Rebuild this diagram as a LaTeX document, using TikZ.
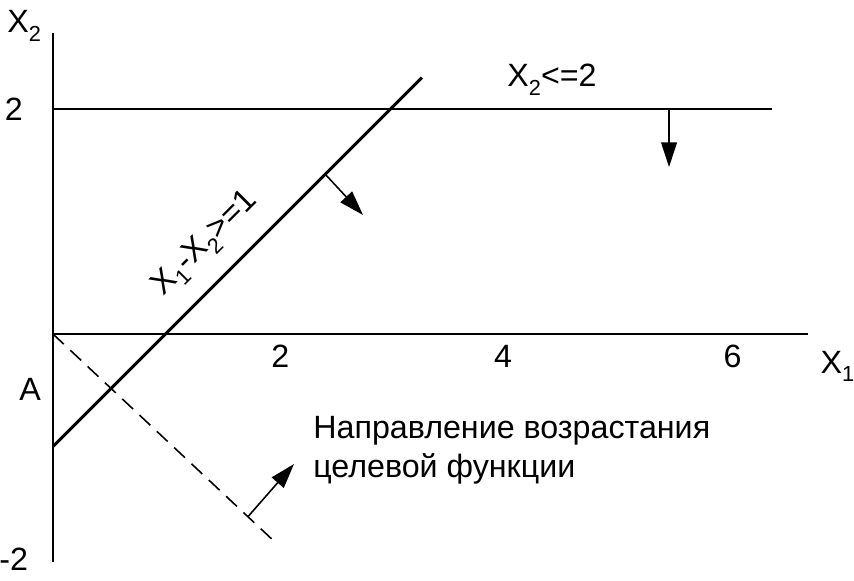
\documentclass[tikz,border=0pt]{standalone}
\usepackage{fontspec}
\setmainfont{Liberation Sans}
\usetikzlibrary{arrows.meta}
\def\sub#1{\raisebox{-0.5ex}{\fontsize{11}{11}\selectfont #1}}

\begin{document}
\begin{tikzpicture}[x=2cm, y=2cm, font=\fontsize{16.3}{19.7}\selectfont,
  >={Triangle[length=0.44cm,width=0.28cm]}]
			%%%%% START %%%%%
			\useasboundingbox (-0.471,-2.187) rectangle (7.120,2.969);
			
			% axes and constraint x2<=2
			\draw[line width=1pt] (0,-2.03) -- (0,2.68);
			\draw[line width=1pt] (0,0) -- (6.71,0);
			\draw[line width=1pt] (0,2) -- (6.39,2);
			
			% constraint x1-x2>=1
			\draw[line width=1.5pt] (0,-1) -- (3.28,2.28);
			
			% level line of the objective
			\draw[line width=0.8pt, dash pattern=on 7.5pt off 4.5pt] (0,0) -- (1.973,-1.849);
			
			\draw[line width=0.8pt, ->] (5.476,2) -- (5.476,1.484);
			\draw[line width=0.8pt, ->] (2.42,1.42) -- (2.756,1.058);
			\draw[line width=0.8pt, ->] (1.733,-1.624) -- (2.142,-1.156);
			
			\node[anchor=base west, inner sep=0pt] (xtwo) at (-0.409,2.676) {X\sub{2}};
			\node[anchor=base west, inner sep=0pt] (xone) at (6.82,-0.347) {X\sub{1}};
			\node (ytwo) at (-0.347,2) {2};
			\node (ya) at (-0.204,-0.489) {A};
			\node (ymtwo) at (-0.35,-2) {-2};
			\node (xtick2) at (2.02,-0.2) {2};
			\node (xtick4) at (4.0,-0.2) {4};
			\node (xtick6) at (6.04,-0.2) {6};
			
			\node[anchor=base west, inner sep=0pt] (limtwo) at (4.036,2.196) {X\sub{2}<=2};
			\node[rotate=45, inner sep=0pt] (limone) at (1.36,0.8) {X\sub{1}-X\sub{2}>=1};
			
			\node[anchor=base west, inner sep=0pt, align=left] (goal) at (2.311,-1.271)
			  {Направление возрастания\\целевой функции};
			%%%%% END %%%%%
\end{tikzpicture}
\end{document}
